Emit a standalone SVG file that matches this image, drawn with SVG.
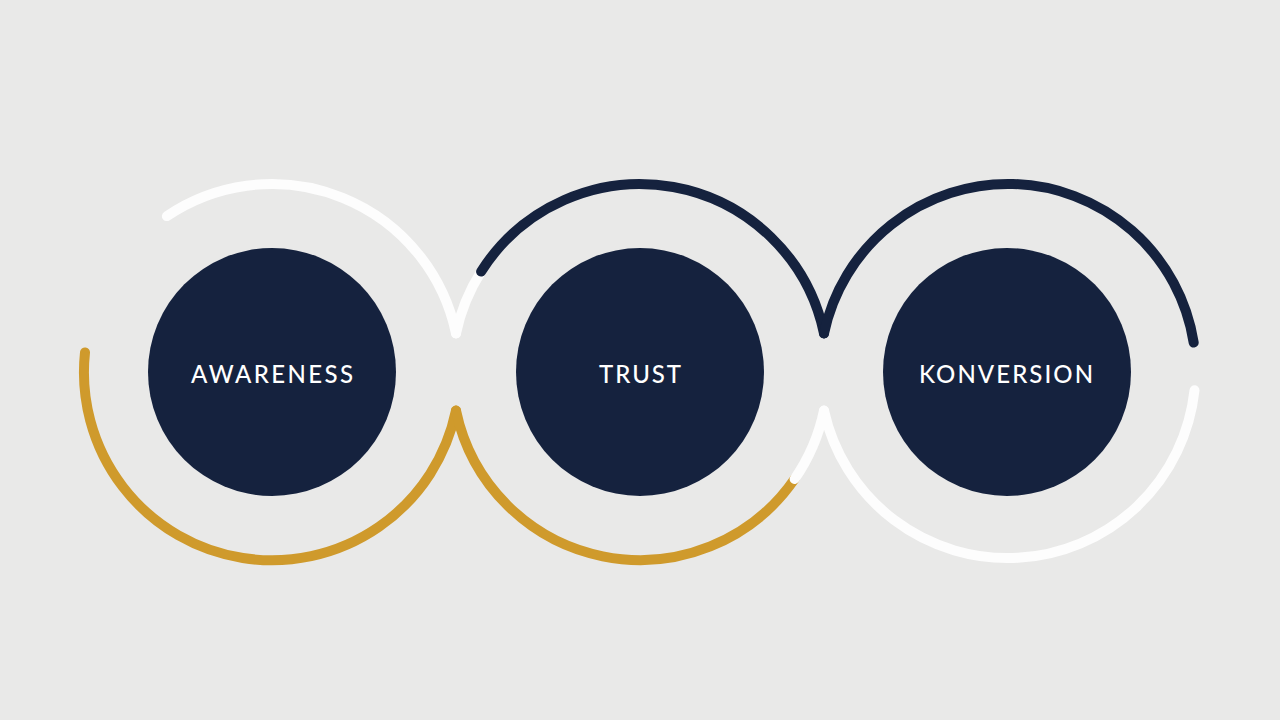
<svg xmlns="http://www.w3.org/2000/svg" width="1280" height="720" viewBox="0 0 1280 720">
<style>
.bg{fill:#e9e9e8}
.core{fill:#15223e}
.arc{fill:none;stroke-width:10;stroke-linecap:round}
.w{stroke:#fdfdfd}
.n{stroke:#15223e}
.g{stroke:#cf9a2c}
.lbl{font-family:Lato,"Open Sans","Liberation Sans",sans-serif;font-size:24px;fill:#ffffff;text-anchor:middle;font-weight:500}
</style>
<rect class="bg" x="0" y="0" width="1280" height="720"/>
<g id="connectors">
<path class="arc w" d="M166.9 216.1 A188 188 0 0 1 456 333.4"/>
<path class="arc g" d="M85 352.4 A188 188 0 0 0 456 410.6"/>
<path class="arc w" d="M456 333.4 A188 188 0 0 1 481.1 271.6"/>
<path class="arc n" d="M481.1 271.6 A188 188 0 0 1 824 333.4"/>
<path class="arc g" d="M456 410.6 A188 188 0 0 0 794.6 479"/>
<path class="arc w" d="M794.6 479 A188 188 0 0 0 824 410.6"/>
<path class="arc n" d="M824 333.4 A188 188 0 0 1 1193.7 342.6"/>
<path class="arc w" d="M1194.5 390.3 A188 188 0 0 1 824 410.6"/>
</g>
<g id="awareness">
<circle class="core" cx="272" cy="372" r="124"/>
<text class="lbl" x="272" y="382.5" textLength="162" lengthAdjust="spacing">AWARENESS</text>
</g>
<g id="trust">
<circle class="core" cx="640" cy="372" r="124"/>
<text class="lbl" x="640" y="382.5" textLength="82" lengthAdjust="spacing">TRUST</text>
</g>
<g id="konversion">
<circle class="core" cx="1007" cy="372" r="124"/>
<text class="lbl" x="1006" y="382.5" textLength="174" lengthAdjust="spacing">KONVERSION</text>
</g>
</svg>
